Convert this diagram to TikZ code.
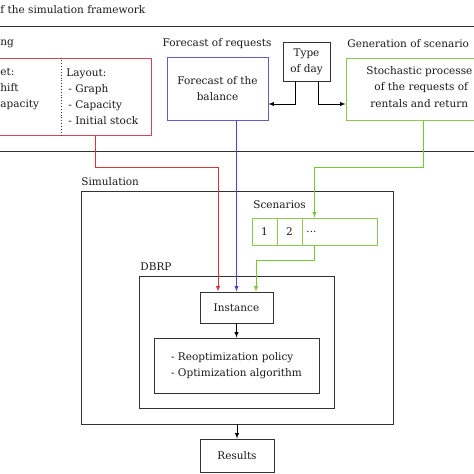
\documentclass[tikz,border=0pt]{standalone}
\usepackage{fontspec}
\setmainfont{DejaVu Serif}
\definecolor{boxred}{RGB}{208,72,88}
\definecolor{boxblue}{RGB}{96,96,200}
\definecolor{boxgreen}{RGB}{140,200,80}
\definecolor{linered}{RGB}{220,50,60}
\definecolor{lineblue}{RGB}{70,70,210}
\definecolor{linegreen}{RGB}{120,200,50}

\begin{document}
\begin{tikzpicture}[x=1pt,y=-1pt,line width=0.85pt,
        font=\fontsize{10.5}{16}\selectfont,text=black!90,
        box/.style={draw=black!80,inner sep=0pt,align=center},
        lbl/.style={anchor=west,inner sep=0pt,align=left}]%
        \useasboundingbox (0,0) rectangle (474,474);
        \clip (0,0) rectangle (474,474);
        % framework
        \node[lbl] (title) at (0,10) {f the simulation framework};
        \node[box,minimum width=500,minimum height=125] (frame) at (237,88.5) {};
        % setting
        \node[lbl] (settinglbl) at (0,44) {ng};
        \node[box,draw=boxred,minimum width=161,minimum height=77] (setting) at (70.5,96.5) {};
        \draw[dotted,black!80] ([xshift=-9.5]setting.north) -- ([xshift=-9.5]setting.south);
        \node[lbl] (fleet) at (0,89) {et:\\hift\\apacity};
        \node[lbl] (layout) at (66,97) {Layout:\\\hspace{2pt}- Graph\\\hspace{2pt}- Capacity\\\hspace{2pt}- Initial stock};
        % forecast
        \node[inner sep=0pt] (reqlbl) at (217,44) {Forecast of requests};
        \node[box,draw=boxblue,minimum width=101,minimum height=63] (balance) at (217.5,88.5) {Forecast of the\\balance};
        \node[box,minimum width=47,minimum height=39] (day) at (306.5,61.5) {Type\\of day};
        % scenarios generation
        \node[lbl] (genlbl) at (347,44) {Generation of scenario};
        \node[box,draw=boxgreen,minimum width=154,minimum height=62] (gen) at (423,89) {};
        \node[lbl] (gen1) at (366,72) {Stochastic processe};
        \node[lbl] (gen2) at (374,88) {of the requests of};
        \node[lbl] (gen3) at (370,104) {rentals and return};
        \draw[-latex] ([xshift=-11.5]day.south) |- ([yshift=-15.5]balance.east);
        \draw[-latex] ([xshift=11.5]day.south) |- ([yshift=-15]gen.west);
        % simulation
        \node[lbl] (simlbl) at (81,182) {Simulation};
        \node[box,minimum width=312,minimum height=233] (sim) at (237,307.5) {};
        \node[lbl] (scenlbl) at (253,205) {Scenarios};
        \node[box,draw=boxgreen,minimum width=125,minimum height=27] (scen) at (314.5,231.5) {};
        \draw[boxgreen] ([xshift=-37.5]scen.north) -- ([xshift=-37.5]scen.south);
        \draw[boxgreen] ([xshift=-12.5]scen.north) -- ([xshift=-12.5]scen.south);
        \node (scen1) at (264.5,231.5) {1};
        \node (scen2) at (289.5,231.5) {2};
        \node[lbl] (scen3) at (306,231.5) {...};
        \node[lbl] (dbrplbl) at (140,267) {DBRP};
        \node[box,minimum width=195,minimum height=132] (dbrp) at (236.5,342) {};
        \node[box,minimum width=73,minimum height=31] (instance) at (236.5,307.5) {Instance};
        \node[box,minimum width=165,minimum height=55,align=left] (policy) at (236.5,365.5) {- Reoptimization policy\\- Optimization algorithm};
        \node[box,minimum width=74,minimum height=33] (results) at (237,455.5) {Results};
        % connectors
        \draw[-latex,linered] ([xshift=24.5]setting.south) -- ++(0,32) -| ([xshift=-18.5]instance.north);
        \draw[-latex,lineblue] (balance.south -| instance.north) -- (instance.north);
        \draw[-latex,linegreen] (gen.south) -- ++(0,47) -| (scen.north);
        \draw[-latex,linegreen] (scen.south) -- ++(0,15) -| ([xshift=19.5]instance.north);
        \draw[-latex] (instance) -- (policy);
        \draw[-latex] (sim) -- (results);
    \end{tikzpicture}
\end{document}
